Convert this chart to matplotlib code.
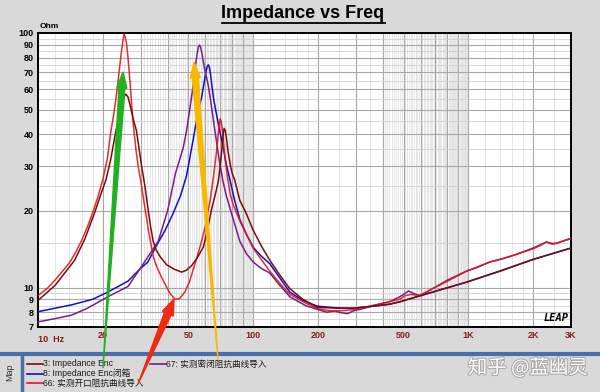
import math
import matplotlib
matplotlib.use("Agg")
import matplotlib.pyplot as plt
from matplotlib.lines import Line2D
from matplotlib.patches import Polygon
import matplotlib.patheffects as pe

plt.rcParams['font.family'] = ['Liberation Sans', 'Noto Sans CJK SC', 'DejaVu Sans']

# 66: measured, open box
red_f = [10, 11, 12, 13, 14, 15, 16, 17, 18, 19, 20, 21, 21.8, 22.5, 23.2, 23.8, 24.4, 24.8,
         25.1, 25.4, 25.8, 26.2, 26.7, 27.2, 27.7, 28.5, 29.3, 30.2, 31.0, 31.8, 32.6, 33.5,
         34.3, 35.2, 36.2, 38.3, 41.0, 43.3, 45.5, 48.1, 50.5, 52.7, 55, 57.6, 60, 62.9, 64.5,
         66, 67.5, 68.8, 69.7, 70.3, 71, 71.8, 72.6, 74, 76.3, 78.5, 81.0, 86.7, 93, 100, 109,
         119.5, 133, 148, 175, 199, 230, 255, 292, 361, 430, 480, 510, 540, 600, 682, 800, 980,
         1258, 1450, 1671, 2000, 2150, 2307, 2450, 2569, 2800, 3000]
red_z = [9.3, 9.9, 10.7, 11.6, 12.5, 13.8, 15.4, 17.4, 19.8, 22.8, 26.5, 32, 41, 48, 58, 70, 84, 93,
         99, 97, 91, 80, 66, 53, 44, 35, 29.5, 25.5, 22, 19.2, 16.8, 14.8,
         13.3, 12.4, 11.7, 10.6, 9.5, 9.0, 9.05, 9.6, 10.5, 11.8, 13.3, 15.2, 17.5, 21.7, 25,
         29, 34, 40, 44, 46, 45, 42, 38.4, 32, 26.5, 23, 21, 18.3, 16.2, 14.3, 12.9,
         11.6, 10.4, 9.4, 8.7, 8.25, 8.1, 8.1, 8.2, 8.5, 8.8, 9.0, 9.3, 9.4, 9.3, 9.9, 10.6, 11.6,
         12.6, 13.0, 13.5, 14.2, 14.6, 15.1, 14.8, 14.9, 15.3, 15.6]

# 3: simulated, vented box
dark_f = [10, 12, 14.8, 16.5, 18.3, 19.5, 20.7, 21.8, 23.0, 23.8, 24.5, 25.1, 25.6, 26.2, 26.8,
          27.7, 28.7, 29.5, 30.3, 31.4, 32.3, 33.3, 34.3, 35.5, 37, 39.6, 43.0, 46.5, 49, 51.8,
          55, 58.6, 61, 64.0, 66.5, 68.8, 70.3, 71.5, 72.5, 73.3, 74.2, 75.3, 76.5, 78.5, 80,
          82.0, 86.7, 93, 100, 109, 119.5, 133, 148, 170, 199, 255, 292, 361, 430, 482, 682,
          980, 1400, 2000, 3000]
dark_z = [8.9, 10.2, 12.8, 15.5, 19.6, 23, 26.5, 32, 41.2, 47, 52, 56, 57.5, 56, 52,
          46, 41.2, 35, 30, 25, 21, 17.5, 15.2, 14, 13.2, 12.3, 11.8, 11.5, 11.7, 12.2,
          13.1, 14.4, 16.5, 20.2, 23, 26, 30, 35, 40, 42.2, 41.5, 38, 34, 30, 28,
          26.5, 22, 19.5, 16.8, 14.6, 12.8, 11.2, 9.9, 9.0, 8.35, 8.3, 8.3, 8.45, 8.6, 8.8, 9.6,
          10.5, 11.6, 12.9, 14.3]

# 8: simulated, closed box
blue_f = [10, 14.3, 18, 21.1, 26.2, 30, 32.4, 35.5, 39, 42.5, 46, 49, 51, 52.7, 54.2, 55.8,
          57.6, 59, 60.2, 61.2, 61.9, 62.7, 63.5, 64.3, 65.5, 67.5, 70, 72.6, 75, 78, 82, 86.7,
          93, 100, 109, 119.5, 133, 148, 170, 199, 255, 292, 361, 430, 482, 682, 980, 1400,
          2000, 3000]
blue_z = [8.04, 8.55, 9.0, 9.6, 10.6, 11.9, 12.6, 14.6, 16.8, 19.6, 23, 27.5, 33, 38.4, 44, 50,
          56, 63, 70, 74, 75, 73, 68, 62, 55, 48, 41, 35.4, 30.5, 26.5, 22, 18.5,
          16.2, 14.4, 13.3, 12.4, 10.9, 9.6, 8.9, 8.45, 8.3, 8.3, 8.45, 8.6, 8.8, 9.6, 10.5, 11.6,
          12.9, 14.3]

# 67: measured, closed box
purple_f = [10, 12, 14.3, 17, 21.1, 26.2, 29.7, 32.4, 36.2, 40, 43.5, 47.3, 49, 50.9, 52.3,
            53.6, 54.8, 55.6, 56.3, 57.0, 57.8, 58.7, 59.5, 60.7, 61.9, 63.5, 65.3, 66.8, 68.3,
            70.3, 72.5, 75, 78, 86.7, 93, 100, 109, 119.5, 133, 148, 175, 199, 220, 240, 255,
            275, 292, 330, 361, 430, 480, 510, 527, 560, 593, 682, 800, 980, 1100, 1258, 1450,
            1671, 2000, 2150, 2307, 2450, 2569, 2800, 3000]
purple_z = [7.33, 7.55, 7.79, 8.3, 9.2, 10.1, 11.8, 13.2, 15.2, 20, 28, 35.4, 41.2, 51, 60,
            72, 82, 88, 89.7, 88, 83, 77, 72, 67, 62, 54, 45.5, 40, 35,
            30, 26, 23, 20.5, 15.2, 13.6, 12.6, 11.9, 11.4, 10.2, 9.2, 8.5, 8.2, 8.0, 8.1, 7.97,
            7.9, 8.1, 8.3, 8.5, 8.8, 9.2, 9.5, 9.7, 9.45, 9.3, 9.9, 10.7, 11.6, 12.0, 12.6, 13.0,
            13.5, 14.3, 14.7, 15.1, 14.9, 14.95, 15.3, 15.6]

x_ticks = [20, 50, 100, 200, 500, 1000, 2000, 3000]
x_labels = ['20', '50', '100', '200', '500', '1K', '2K', '3K']
y_ticks = [7, 8, 9, 10, 20, 30, 40, 50, 60, 70, 80, 90, 100]

legend_names = ['3: Impedance Enc', '8: Impedance Enc闭箱', '66: 实测开口阻抗曲线导入', '67: 实测密闭阻抗曲线导入']

c_dark = '#7a0c0c'
c_red = '#e01818'
c_blue = '#1010c8'
c_purple = '#7d1a8c'
bg = '#d9d9d9'

W, H = 600, 392
fig = plt.figure(figsize=(6, 3.92), dpi=100, facecolor=bg)
ax = fig.add_axes([38 / W, 1 - 327 / H, 533 / W, 294 / H])


def px(x, y):
    return (x / W, 1 - y / H)


ax.set_xscale('log')
ax.set_yscale('log')
ax.set_xlim(10, 3000)
ax.set_ylim(7, 100)


def steps(a, b, s):
    n = int(round((b - a) / s))
    return [a + i * s for i in range(1, n)]


# LEAP-style grid: fine lines get denser toward the top of each decade
minor_x = []
for d in (10, 100, 1000):
    minor_x += steps(d, 2 * d, 0.2 * d) + steps(2 * d, 3 * d, 0.5 * d)
    minor_x += steps(3 * d, 10 * d, 0.1 * d) if d == 10 else steps(2 * d, 4 * d, 0.5 * d) + steps(4 * d, 10 * d, 0.1 * d)
major_x = [m * d for d in (10, 100, 1000) for m in range(1, 10) if m * d <= 3000]
minor_x = [v for v in minor_x if 10 < v < 3000 and all(abs(v - m) > 1e-6 for m in major_x)]
ax.vlines(minor_x, 7, 100, colors='#dcdcdc', lw=0.5, zorder=0)
ax.vlines(major_x, 7, 100, colors='#a8a8a8', lw=0.8, zorder=0)
minor_y = [7.5, 8.5, 9.5] + [v + 5 for v in range(10, 100, 10)]
ax.hlines(minor_y, 10, 3000, colors='#d0d0d0', lw=0.6, zorder=0)
ax.hlines(y_ticks, 10, 3000, colors='#a8a8a8', lw=0.8, zorder=0)

ax.plot(blue_f, blue_z, color=c_blue, lw=1.1, zorder=3)
ax.plot(dark_f, dark_z, color=c_dark, lw=1.1, zorder=4)
ax.plot(purple_f, purple_z, color=c_purple, lw=1.1, zorder=3)
ax.plot(red_f, red_z, color=c_red, lw=1.1, zorder=3, alpha=0.9)

ax.xaxis.set_minor_locator(matplotlib.ticker.NullLocator())
ax.yaxis.set_minor_locator(matplotlib.ticker.NullLocator())
ax.set_xticks(x_ticks, x_labels)
ax.set_yticks(y_ticks, [str(v) for v in y_ticks])
ax.tick_params(length=0, labelsize=6.5, pad=3)
for t in ax.get_xticklabels():
    t.set_color('#8b1a1a')
    t.set_fontweight('bold')
for t in ax.get_yticklabels():
    t.set_fontweight('bold')
for s in ax.spines.values():
    s.set_linewidth(1.4)
ax.text(0.0, -0.027, '10  Hz', transform=ax.transAxes, ha='left', va='top',
        fontsize=6.5, color='#8b1a1a', fontweight='bold')
ax.text(0.995, 0.012, 'LEAP', transform=ax.transAxes, ha='right', va='bottom',
        fontsize=7.5, fontweight='bold', style='italic', family='DejaVu Sans Mono')

fig.text(*px(40, 26), 'Ohm', fontsize=6, fontweight='bold', va='center')
fig.text(*px(303, 14), 'Impedance vs Freq', fontsize=13, fontweight='bold', ha='center', va='center')
fig.add_artist(Line2D([222 / W, 385 / W], [1 - 22.5 / H] * 2, color='black', lw=1.3,
                      transform=fig.transFigure))

# Map panel
fig.add_artist(Line2D([0, 1], [1 - 354 / H] * 2, color='#4a6ea8', lw=3, transform=fig.transFigure))
fig.add_artist(Line2D([22 / W] * 2, [1 - 356 / H, 0], color='#4a6ea8', lw=2.5, transform=fig.transFigure))
fig.text(*px(10, 372), 'Map', rotation=90, fontsize=6.5, ha='center', va='center', color='#333333')

leg_pos = [(27, 364), (27, 373.5), (27, 383), (150, 364)]
leg_cols = [c_dark, c_blue, c_red, c_purple]
for (lx, ly), name, col in zip(leg_pos, legend_names, leg_cols):
    fig.add_artist(Line2D([lx / W, (lx + 16) / W], [1 - ly / H] * 2, color=col, lw=1.2,
                          transform=fig.transFigure))
    fig.text(*px(lx + 16, ly), name, fontsize=6.2, va='center', color='#1a1a1a')

fig.text(*px(528, 368), '知乎 @蓝幽灵', fontsize=14, ha='center', va='center', color='white',
         family=['Noto Sans CJK SC'],
         path_effects=[pe.withStroke(linewidth=1.5, foreground='#a8a8a8')])


def arrow(tail, tip, col, shaft=5, head=11, head_len=16):
    tx, ty = tail
    hx, hy = tip
    L = math.hypot(hx - tx, hy - ty)
    ux, uy = (hx - tx) / L, (hy - ty) / L
    nx, ny = -uy, ux
    bx, by = hx - ux * head_len, hy - uy * head_len
    pts = [(tx, ty),
           (bx + nx * shaft / 2, by + ny * shaft / 2),
           (bx + nx * head / 2, by + ny * head / 2),
           (hx, hy),
           (bx - nx * head / 2, by - ny * head / 2),
           (bx - nx * shaft / 2, by - ny * shaft / 2)]
    fig.add_artist(Polygon([px(x, y) for x, y in pts], closed=True, color=col,
                           transform=fig.transFigure, zorder=10))


arrow((103, 368), (123, 72), '#22b022', shaft=6, head=10)
arrow((138, 384), (174, 299), '#f02a10', shaft=7, head=12)
arrow((218, 360), (194, 62), '#f8b800', shaft=6, head=10)

fig.savefig('out.png', dpi=100, facecolor=bg)
